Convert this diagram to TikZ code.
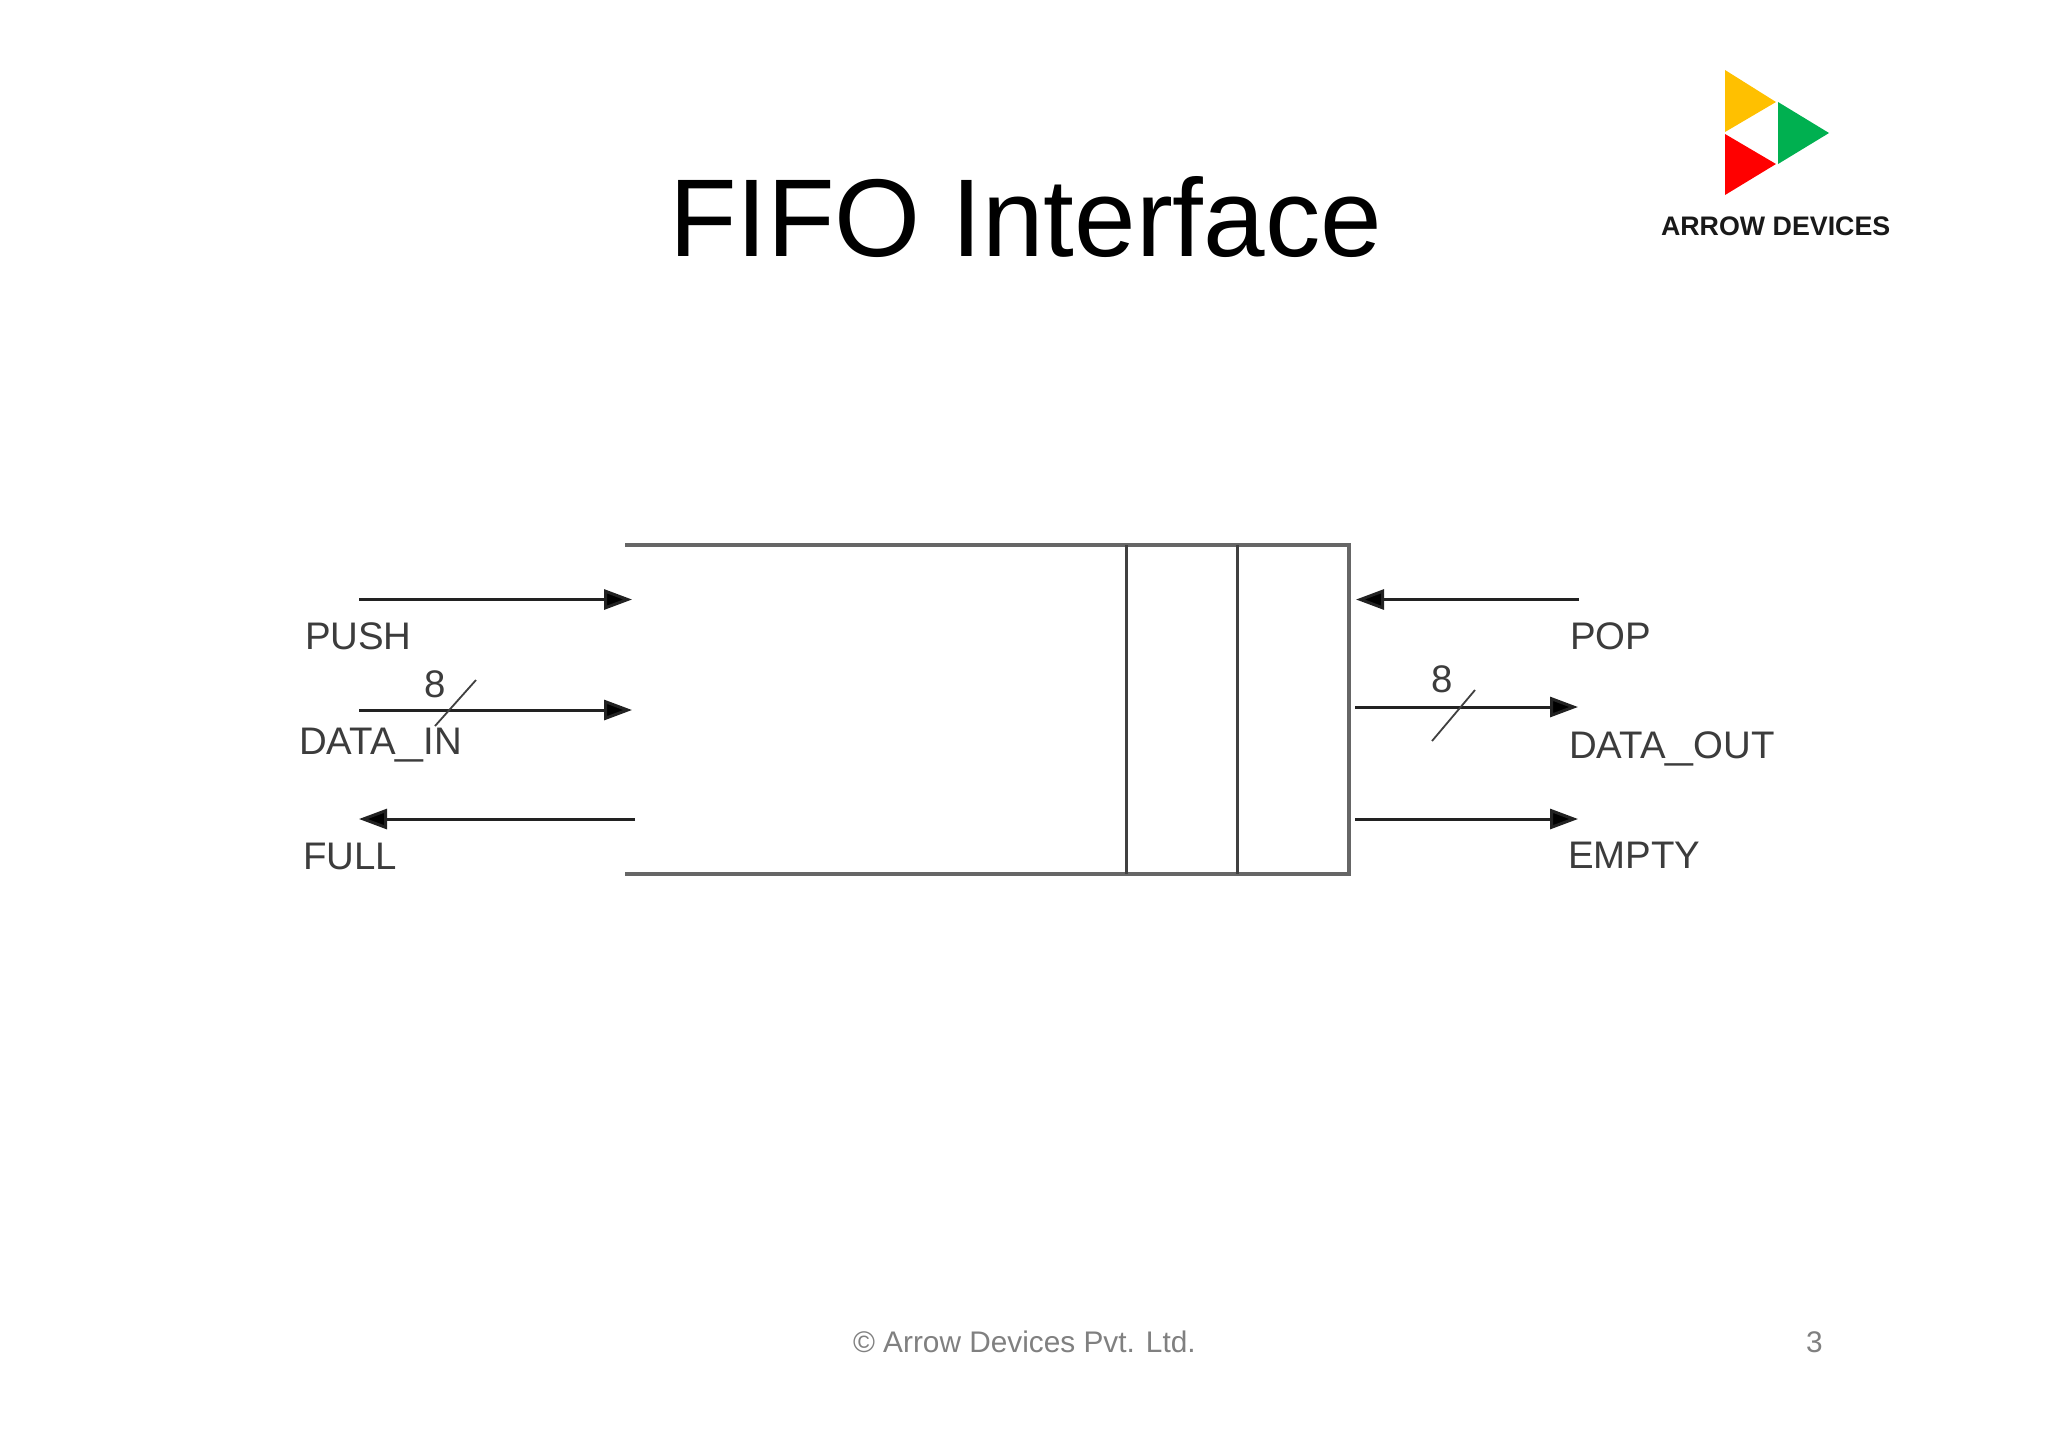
\documentclass[tikz,border=0pt]{standalone}
\usepackage{fontspec}
\setmainfont{Liberation Sans}
\usetikzlibrary{arrows.meta}
\definecolor{logoyellow}{HTML}{FFC000}
\definecolor{logogreen}{HTML}{00B050}
\definecolor{logored}{HTML}{FF0000}
\definecolor{boxgray}{HTML}{666666}
\definecolor{divgray}{HTML}{404040}
\definecolor{wiredark}{HTML}{222222}
\definecolor{labelgray}{HTML}{3C3C3C}
\definecolor{footgray}{HTML}{808080}
\newcommand{\wideus}{\scalebox{1.3}[1]{\_}}
\tikzset{
  txt/.style={anchor=base west,inner sep=0pt,outer sep=0pt},
  sig/.style={txt,text=labelgray,font=\fontsize{19.2pt}{19.2pt}\selectfont},
  foot/.style={txt,text=footgray,font=\fontsize{14.9pt}{14.9pt}\selectfont},
  boxline/.style={draw=boxgray,line width=2pt,line join=miter},
  divider/.style={draw=divgray,line width=1.5pt},
  wire/.style={draw=wiredark,line width=1.5pt,-{Triangle[length=14pt,width=10pt,fill=black]}},
  slash/.style={draw=divgray,line width=0.9pt}
}
\begin{document}
\begin{tikzpicture}[x=0.5pt,y=-0.5pt]
\useasboundingbox[fill=white] (0,0) rectangle (2048,1447);
% logo
\fill[logoyellow] (1725,70) -- (1776,102) -- (1725,132) -- cycle;
\fill[logogreen] (1778,102) -- (1829,133) -- (1778,164) -- cycle;
\fill[logored] (1725,134) -- (1776,164) -- (1725,195) -- cycle;
\node[txt,text=black!90,font=\fontsize{13.4pt}{13.4pt}\selectfont\bfseries] (logotext) at (1661,235) {ARROW DEVICES};
% title
\node[txt,font=\fontsize{55.3pt}{55.3pt}\selectfont] (title) at (669,256) {FIFO Interface};
% FIFO box
\coordinate (tl) at (625,545);
\coordinate (tr) at (1349,545);
\coordinate (br) at (1349,874);
\coordinate (bl) at (625,874);
\draw[boxline] (tl) -- (tr) -- (br) -- (bl);
\coordinate (d1t) at (1126,545);
\coordinate (d1b) at (1126,874);
\coordinate (d2t) at (1237,545);
\coordinate (d2b) at (1237,874);
\draw[divider] (d1t) -- (d1b);
\draw[divider] (d2t) -- (d2b);
% left signals
\coordinate (pushA) at (359,599.5);
\coordinate (pushB) at (632,599.5);
\draw[wire] (pushA) -- (pushB);
\coordinate (dinA) at (359,710);
\coordinate (dinB) at (632,710);
\draw[wire] (dinA) -- (dinB);
\coordinate (fullA) at (635,819);
\coordinate (fullB) at (359,819);
\draw[wire] (fullA) -- (fullB);
\coordinate (s1a) at (476,680);
\coordinate (s1b) at (435,726);
\draw[slash] (s1a) -- (s1b);
\node[sig] (lpush) at (305,649) {PUSH};
\node[sig] (ldin) at (299,754) {DATA\wideus IN};
\node[sig] (lfull) at (303,869.5) {FULL};
\node[sig] (l8a) at (424,697) {8};
% right signals
\coordinate (popA) at (1579,599.5);
\coordinate (popB) at (1356,599.5);
\draw[wire] (popA) -- (popB);
\coordinate (doutA) at (1355,707);
\coordinate (doutB) at (1578,707);
\draw[wire] (doutA) -- (doutB);
\coordinate (emptyA) at (1355,819);
\coordinate (emptyB) at (1578,819);
\draw[wire] (emptyA) -- (emptyB);
\coordinate (s2a) at (1475,690);
\coordinate (s2b) at (1432,741);
\draw[slash] (s2a) -- (s2b);
\node[sig] (lpop) at (1570,649) {POP};
\node[sig] (ldout) at (1569,758) {DATA\wideus OUT};
\node[sig] (lempty) at (1568,868) {EMPTY};
\node[sig] (l8b) at (1431,692) {8};
% footer
\node[foot] (footer) at (853,1352) {© Arrow Devices Pvt. Ltd.};
\node[foot] (page) at (1806,1352) {3};
\end{tikzpicture}
\end{document}
